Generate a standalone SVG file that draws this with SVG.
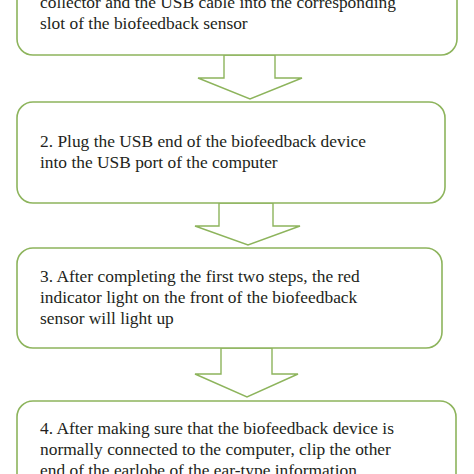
<svg xmlns="http://www.w3.org/2000/svg" width="474" height="474" viewBox="0 0 474 474">
<style>
.box{fill:#ffffff;stroke:#8db45c;stroke-width:1.6}
.arr{fill:#ffffff;stroke:#8db45c;stroke-width:1.4;stroke-linejoin:miter}
text{font-family:"Liberation Serif","Times New Roman",serif;font-size:17.4px;fill:#231f20}
</style>
<rect width="474" height="474" fill="#ffffff"/>
<g id="connectors">
<polygon class="arr" points="224,55 275,55 275,78 302,78 250,99 198,78 224,78"/>
<polygon class="arr" points="219,203 273,203 273,226 300,226 248,245 195,226 219,226"/>
<polygon class="arr" points="221,348 272,348 272,374 298,374 247,397 195,374 221,374"/>
</g>
<g id="step1">
<rect class="box" x="17" y="-40" width="440" height="95" rx="16"/>
<text x="40" y="8">collector and the USB cable into the corresponding</text>
<text x="40" y="29">slot of the biofeedback sensor</text>
</g>
<g id="step2">
<rect class="box" x="17" y="102" width="428" height="101" rx="16"/>
<text x="40" y="147">2. Plug the USB end of the biofeedback device</text>
<text x="40" y="168">into the USB port of the computer</text>
</g>
<g id="step3">
<rect class="box" x="17" y="248" width="425" height="100" rx="16"/>
<text x="40" y="282">3. After completing the first two steps, the red</text>
<text x="40" y="303">indicator light on the front of the biofeedback</text>
<text x="40" y="324">sensor will light up</text>
</g>
<g id="step4">
<rect class="box" x="17" y="401" width="439" height="120" rx="16"/>
<text x="40" y="434">4. After making sure that the biofeedback device is</text>
<text x="40" y="455">normally connected to the computer, clip the other</text>
<text x="40" y="476">end of the earlobe of the ear-type information</text>
</g>
</svg>
